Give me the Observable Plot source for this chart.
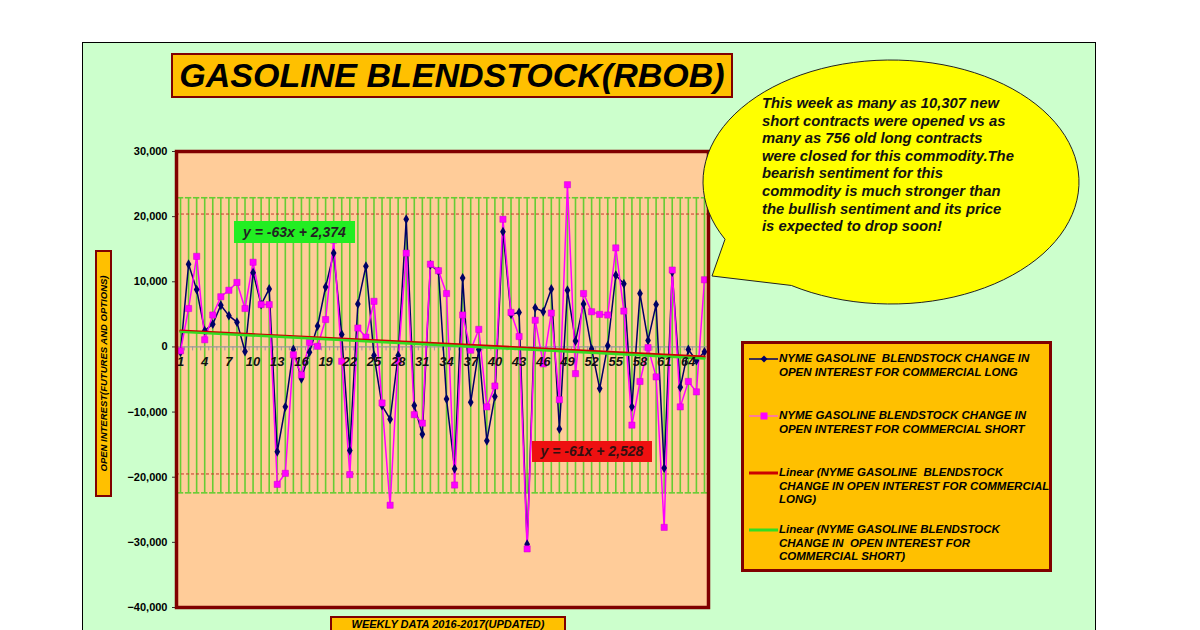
<!DOCTYPE html>
<html><head><meta charset="utf-8">
<script src="https://cdn.jsdelivr.net/npm/d3@7"></script>
<script src="https://cdn.jsdelivr.net/npm/@observablehq/plot@0.6"></script>
<style>
body{margin:0;background:#fff;font-family:"Liberation Sans",Arial,sans-serif;}
#wrap{position:relative;width:1200px;height:630px;overflow:hidden;background:#fff;}
#bg{position:absolute;left:82px;top:42px;width:1012px;height:620px;background:#CCFFCC;border:1px solid #000;}
#chart{position:absolute;left:0;top:0;}
.box{position:absolute;box-sizing:border-box;font-weight:bold;font-style:italic;color:#000;}
#title{left:171px;top:53px;width:562px;height:45px;background:#FFC000;border:2px solid #800000;font-size:34px;line-height:41px;text-align:center;white-space:nowrap;}
#ytitle{left:-20px;top:365px;width:247px;height:17px;background:#FFC000;border:2px solid #800000;font-size:9.5px;line-height:13px;text-align:center;transform:rotate(-90deg);transform-origin:center;}
#xtitle{left:330px;top:616px;width:236px;height:24px;background:#FFC000;border:2px solid #800000;font-size:11px;line-height:12px;text-align:center;}
#eq1{left:234px;top:221px;width:121px;height:22px;background:#22EE22;font-size:14px;line-height:22px;text-align:center;color:#222;}
#eq2{left:532px;top:441px;width:120px;height:21px;background:#EE1111;font-size:14px;line-height:21px;text-align:center;color:#331111;}
#legend{left:741px;top:341px;width:311px;height:231px;background:#FFC000;border:3px solid #800000;font-size:11.5px;}
.li{position:absolute;left:35px;line-height:13.5px;white-space:pre;}
.ls{position:absolute;left:5px;}
#bubble{position:absolute;left:0;top:0;}
#btext{position:absolute;left:762px;top:95px;font-size:14.8px;line-height:17.6px;font-weight:bold;font-style:italic;color:#111;white-space:nowrap;}
</style></head>
<body>
<div id="wrap">
  <div id="bg"></div>
  <div id="chart"></div>
  <div class="box" id="title">GASOLINE BLENDSTOCK(RBOB)</div>
  <div class="box" id="ytitle">OPEN INTEREST(FUTURES AND OPTIONS)</div>
  <div class="box" id="xtitle">WEEKLY DATA 2016-2017(UPDATED)</div>
  <div class="box" id="eq1"></div>
  <div class="box" id="eq2"></div>
  <div class="box" id="legend"></div>
  <svg id="bubble" width="1200" height="630"></svg>
  <div id="btext"></div>
</div>
<script>
// ---- data ----
const weeks = [1,2,3,4,5,6,7,8,9,10,11,12,13,14,15,16,17,18,19,20,21,22,23,24,25,26,27,28,29,30,31,32,33,34,35,36,37,38,39,40,41,42,43,44,45,46,47,48,49,50,51,52,53,54,55,56,57,58,59,60,61,62,63,64,65,66];
const longChange = [-800,12700,8800,2500,3500,6400,4800,3800,-700,11400,6500,8900,-16100,-9200,-400,-4900,-800,3200,9200,14400,1900,-15900,6600,12400,-1300,-9000,-11100,-1300,19600,-9000,-13400,12600,11600,-8000,-18700,10600,-8500,-400,-14400,-7600,17700,5000,5300,-30300,6000,5400,8900,-12600,8700,900,6600,-300,-6400,200,11000,9700,-9200,8200,1000,6500,-18600,11500,-6200,-400,-2100,-756];
const shortChange = [-600,5900,13900,1100,4900,7700,8700,9900,5900,13000,6500,6500,-21100,-19400,-1200,-4300,700,100,4200,16400,-2200,-19600,2900,1500,7000,-8600,-24300,-2100,14400,-10400,-11700,12700,11700,8200,-21200,4900,-500,2700,-9200,-6000,19600,5300,1600,-31000,4100,-2600,5200,-8100,24900,-4100,8200,5400,5000,4900,15200,5500,-12000,-5300,-100,-4600,-27700,11800,-9200,-5300,-6900,10307];
const trendNames = ["long","short"];
const trendSlope = [-61, -63];
const trendIntercept = [2528, 2374];
const trendLabels = ["y = -61x + 2,528", "y = -63x + 2,374"];
const yTicks = [-40000,-30000,-20000,-10000,0,10000,20000,30000];
const xTickLabels = [1,4,7,10,13,16,19,22,25,28,31,34,37,40,43,46,49,52,55,58,61,64];
const bandLimits = [-22400, 22900];
const refLines = [20400, -19500];
const seriesNames = ["NYME GASOLINE  BLENDSTOCK CHANGE IN OPEN INTEREST FOR COMMERCIAL LONG","NYME GASOLINE BLENDSTOCK CHANGE IN OPEN INTEREST FOR COMMERCIAL SHORT","Linear (NYME GASOLINE  BLENDSTOCK CHANGE IN OPEN INTEREST FOR COMMERCIAL LONG)","Linear (NYME GASOLINE BLENDSTOCK CHANGE IN  OPEN INTEREST FOR COMMERCIAL SHORT)"];
const legendLines = [["NYME GASOLINE  BLENDSTOCK CHANGE IN","OPEN INTEREST FOR COMMERCIAL LONG"],["NYME GASOLINE BLENDSTOCK CHANGE IN","OPEN INTEREST FOR COMMERCIAL SHORT"],["Linear (NYME GASOLINE  BLENDSTOCK","CHANGE IN OPEN INTEREST FOR COMMERCIAL","LONG)"],["Linear (NYME GASOLINE BLENDSTOCK","CHANGE IN  OPEN INTEREST FOR","COMMERCIAL SHORT)"]];
const noteLines = ["This week as many as 10,307 new","short contracts were opened vs as","many as 756 old long contracts","were closed for this commodity.The","bearish sentiment for this","commodity is much stronger than","the bullish sentiment and its price","is expected to drop soon!"];

// ---- tables ----
const longData = weeks.map((w,i)=>({week:w, v:longChange[i]}));
const shortData = weeks.map((w,i)=>({week:w, v:shortChange[i]}));
const boundaries = weeks.slice(0,-1).map(w=>w+0.5);
const first = weeks[0], last = weeks[weeks.length-1];
const trendData = trendNames.flatMap((n,k)=>[first,last].map(w=>({name:n, week:w, v:trendSlope[k]*w+trendIntercept[k]})));

const plot = Plot.plot({
  width:1200, height:630,
  marginLeft:176, marginRight:492, marginTop:151, marginBottom:23,
  style:{background:"transparent", fontFamily:"'Liberation Sans', Arial, sans-serif", color:"#000"},
  x:{domain:[0.5, 66.5], axis:null},
  y:{domain:[-40000, 30000], axis:null},
  marks:[
    Plot.frame({fill:"#FFCC99", stroke:"none"}),
    Plot.ruleX(weeks, {x:d=>d, y1:bandLimits[0], y2:bandLimits[1], stroke:"#66CC33", strokeWidth:1.6}),
    Plot.ruleY(weeks, {x1:d=>d, x2:d=>d, y:bandLimits[1], insetLeft:-3.2, insetRight:-3.2, stroke:"#66CC33", strokeWidth:1.6}),
    Plot.ruleY(weeks, {x1:d=>d, x2:d=>d, y:bandLimits[0], insetLeft:-3.2, insetRight:-3.2, stroke:"#66CC33", strokeWidth:1.6}),
    Plot.ruleY(refLines, {stroke:"#C0392B", strokeWidth:1, strokeDasharray:"3,2"}),
    Plot.ruleY([0], {stroke:"#999", strokeWidth:1.2}),
    Plot.ruleX(boundaries, {x:d=>d, y1:0, y2:0, insetBottom:-4, stroke:"#999", strokeWidth:1}),
    Plot.axisY({ticks:yTicks, tickFormat:d3.format(","), tickSize:4, tickPadding:5, fontSize:11, fontWeight:"bold", stroke:"#333", label:null}),
    Plot.line(longData, {x:"week", y:"v", stroke:"#000066", strokeWidth:1.5}),
    Plot.line(shortData, {x:"week", y:"v", stroke:"#FF00FF", strokeWidth:1.5}),
    Plot.dot(longData, {x:"week", y:"v", symbol:"diamond", r:3, fill:"#000066", stroke:"none"}),
    Plot.dot(shortData, {x:"week", y:"v", symbol:"square", r:3.5, fill:"#FF00FF", stroke:"#CC00CC", strokeWidth:0.5}),
    Plot.line(trendData.filter(d=>d.name==="long"), {x:"week", y:"v", stroke:"#CC0000", strokeWidth:2.5}),
    Plot.line(trendData.filter(d=>d.name==="short"), {x:"week", y:"v", stroke:"#33DD22", strokeWidth:2.5}),
    Plot.text(xTickLabels, {x:d=>d, y:0, text:d=>String(d), dy:15, fontSize:13, fontWeight:"bold", fontStyle:"italic", fill:"#111"}),
    Plot.frame({stroke:"#800000", strokeWidth:3.5})
  ]
});
document.getElementById("chart").appendChild(plot);

document.getElementById("eq1").textContent = trendLabels[1];
document.getElementById("eq2").textContent = trendLabels[0];

// legend
const legend = document.getElementById("legend");
const entryTops = [8, 65, 122, 179];
legendLines.forEach((lines,k)=>{
  const t = document.createElement("div");
  t.className = "li"; t.style.top = entryTops[k]+"px";
  t.textContent = lines.join("\n");
  t.title = seriesNames[k];
  legend.appendChild(t);
  const s = d3.select(legend).append("svg").attr("class","ls").attr("width",30).attr("height",12).style("top",(entryTops[k]+1)+"px");
  const col = ["#000066","#FF66CC","#CC0000","#33DD22"][k];
  s.append("line").attr("x1",0).attr("x2",29).attr("y1",6).attr("y2",6).attr("stroke",col).attr("stroke-width",k<2?1.5:3);
  if(k===0) s.append("path").attr("d","M15,2.5L18.5,6L15,9.5L11.5,6Z").attr("fill","#000066");
  if(k===1) s.append("rect").attr("x",11.5).attr("y",2.5).attr("width",7).attr("height",7).attr("fill","#FF00FF");
});

// speech bubble
const cx=891, cy=182, rx=188, ry=122;
const pt = a => [cx+rx*Math.cos(a*Math.PI/180), cy+ry*Math.sin(a*Math.PI/180)];
const A = pt(152), B = pt(122);
d3.select("#bubble").append("path")
  .attr("d", `M${A[0]},${A[1]} L712,276 L${B[0]},${B[1]} A${rx},${ry} 0 1 0 ${A[0]},${A[1]} Z`)
  .attr("fill","#FFFF00").attr("stroke","#222").attr("stroke-width",1);
document.getElementById("btext").innerHTML = noteLines.join("<br>");
</script>
</body></html>
